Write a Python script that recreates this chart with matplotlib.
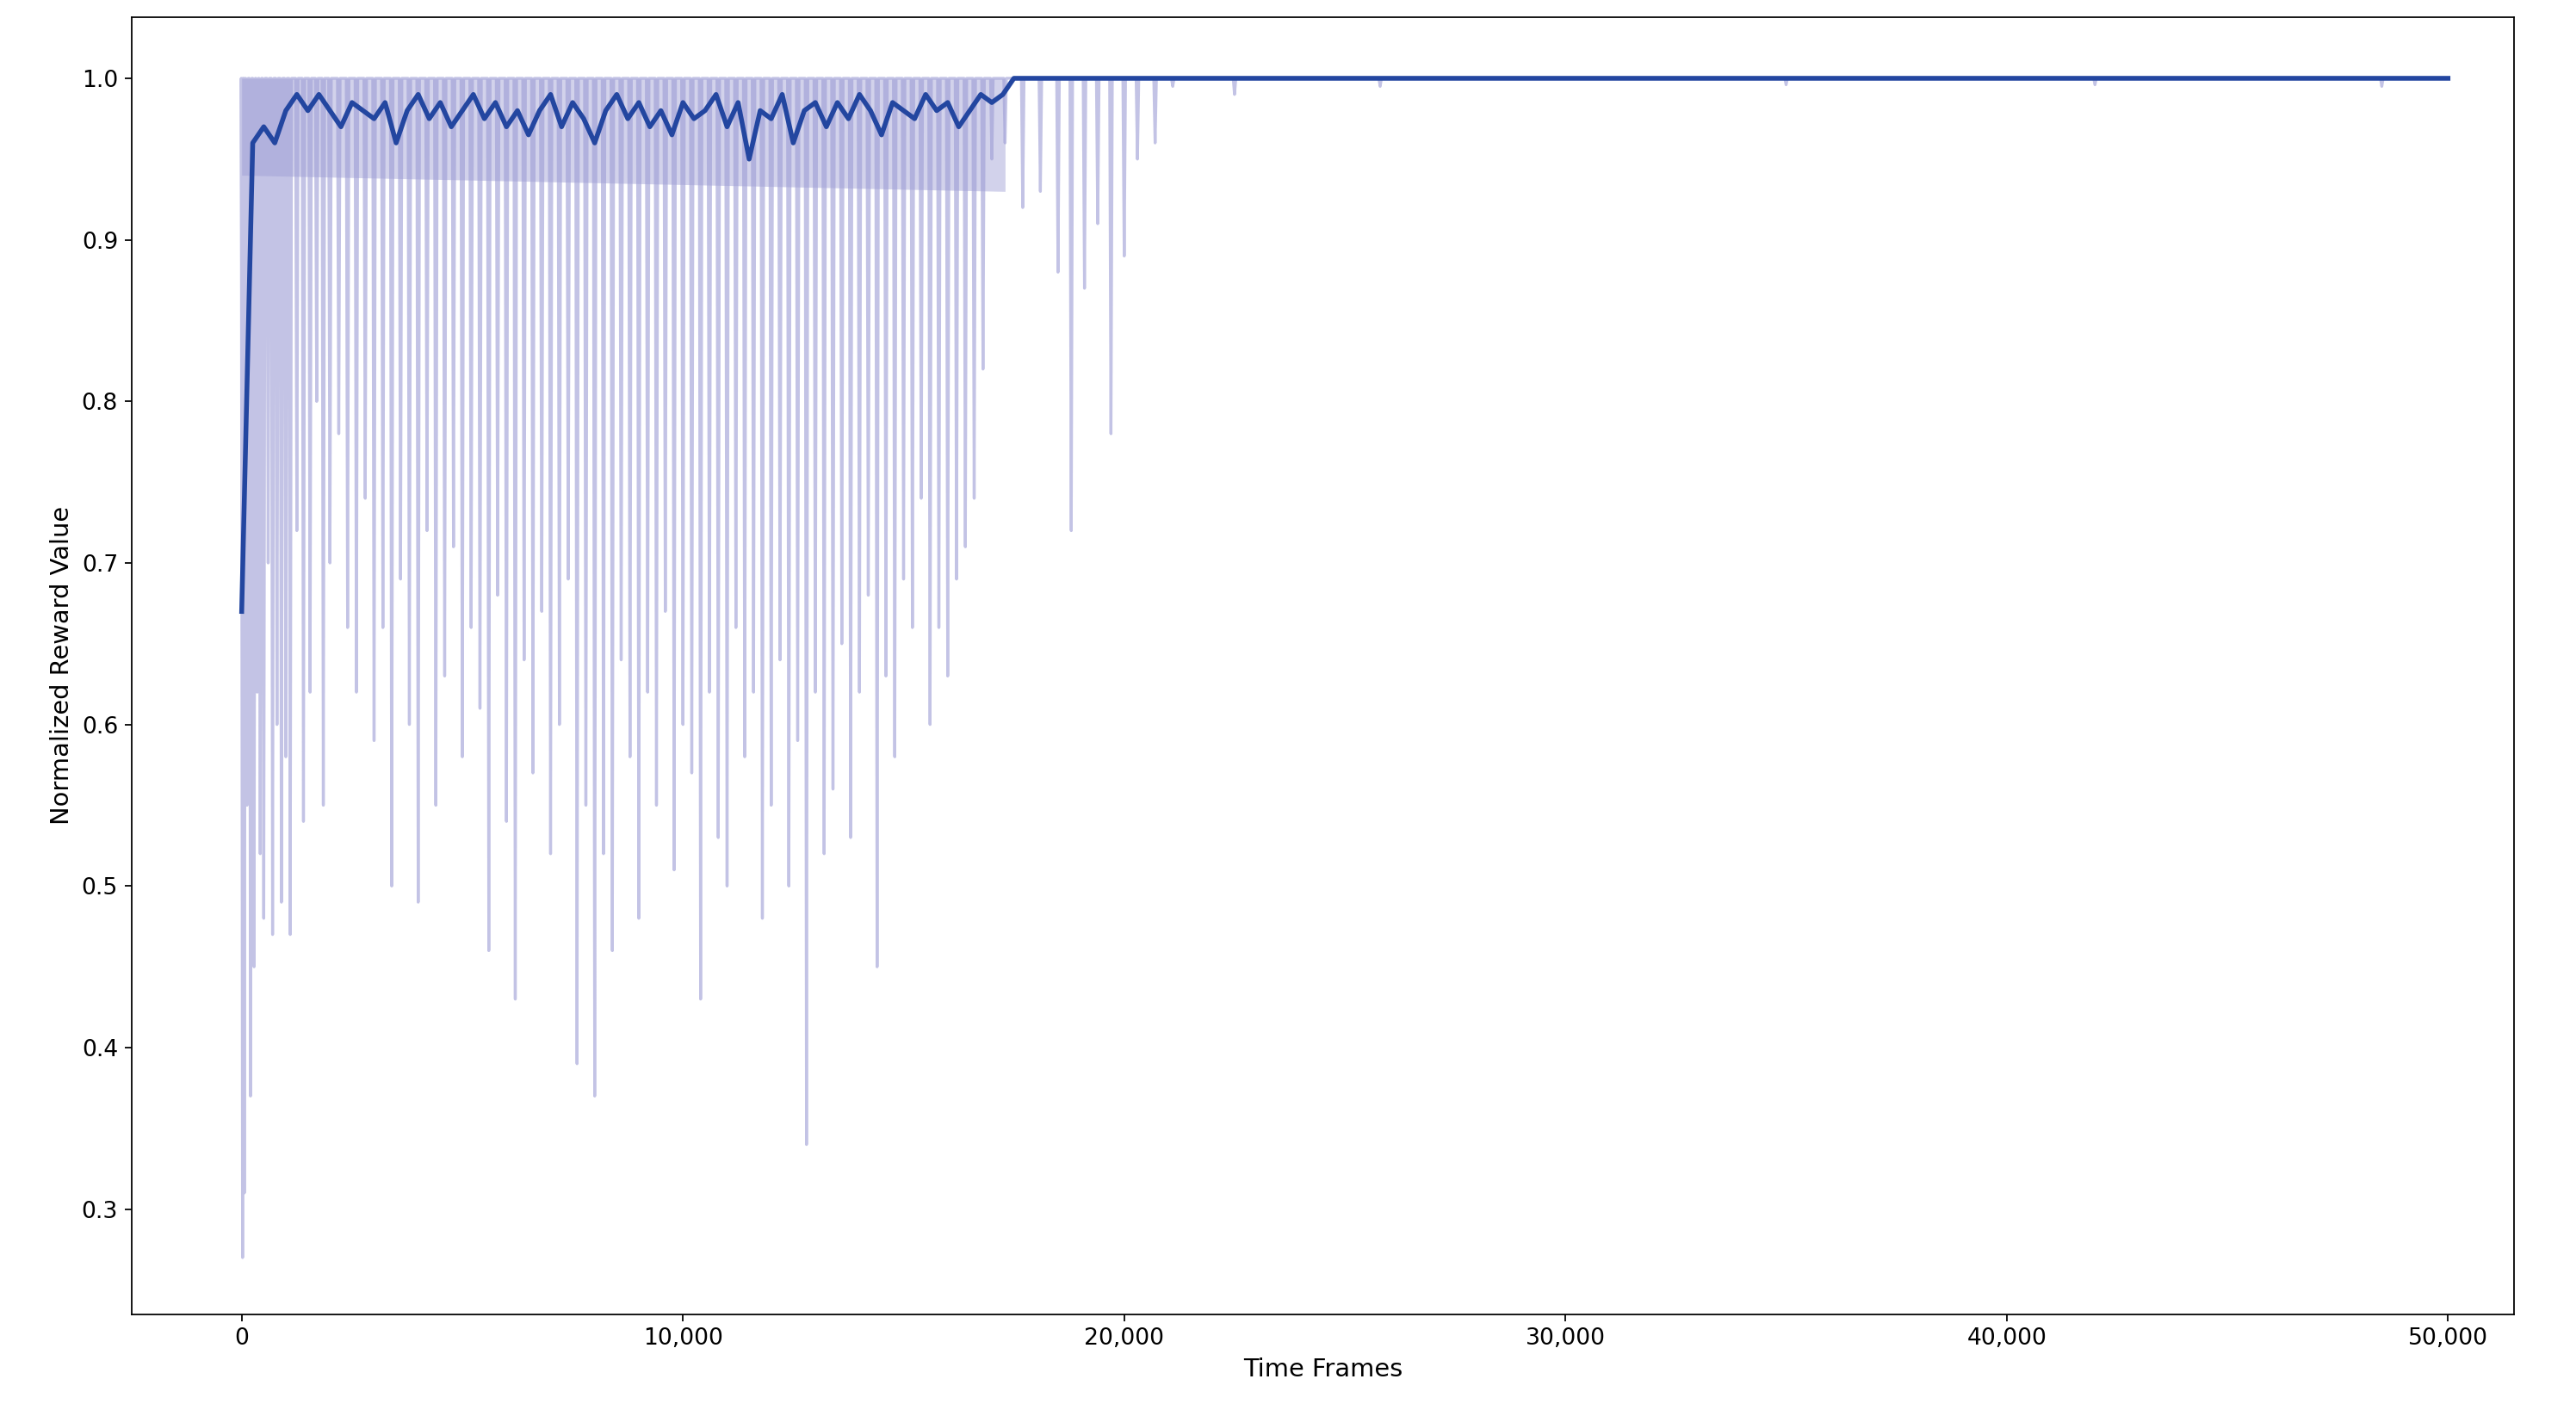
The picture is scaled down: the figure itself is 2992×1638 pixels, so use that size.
import matplotlib.pyplot as plt
from matplotlib.ticker import FuncFormatter

# downward dips of the raw reward (frame, value)
spike_frames = [20, 60, 120, 200, 280, 350, 420, 500, 600, 700, 800, 900, 1000, 1100, 1250,
                1400, 1550, 1700, 1850, 2000, 2200, 2400, 2600, 2800, 3000, 3200, 3400, 3600,
                3800, 4000, 4200, 4400, 4600, 4800, 5000, 5200, 5400, 5600, 5800, 6000, 6200,
                6400, 6600, 6800, 7000, 7200, 7400, 7600, 7800, 8000, 8200, 8400, 8600, 8800,
                9000, 9200, 9400, 9600, 9800, 10000, 10200, 10400, 10600, 10800, 11000, 11200,
                11400, 11600, 11800, 12000, 12200, 12400, 12600, 12800, 13000, 13200, 13400,
                13600, 13800, 14000, 14200, 14400, 14600, 14800, 15000, 15200, 15400, 15600,
                15800, 16000, 16200, 16400, 16600, 16800, 17000, 17300, 17700, 18100, 18500,
                18800, 19100, 19400, 19700, 20000, 20300, 20700, 21100, 22500, 25800, 35000,
                42000, 48500]
spike_values = [0.27, 0.31, 0.55, 0.37, 0.45, 0.62, 0.52, 0.48, 0.70, 0.47, 0.60, 0.49, 0.58,
                0.47, 0.72, 0.54, 0.62, 0.80, 0.55, 0.70, 0.78, 0.66, 0.62, 0.74, 0.59, 0.66,
                0.50, 0.69, 0.60, 0.49, 0.72, 0.55, 0.63, 0.71, 0.58, 0.66, 0.61, 0.46, 0.68,
                0.54, 0.43, 0.64, 0.57, 0.67, 0.52, 0.60, 0.69, 0.39, 0.55, 0.37, 0.52, 0.46,
                0.64, 0.58, 0.48, 0.62, 0.55, 0.67, 0.51, 0.60, 0.57, 0.43, 0.62, 0.53, 0.50,
                0.66, 0.58, 0.62, 0.48, 0.55, 0.64, 0.50, 0.59, 0.34, 0.62, 0.52, 0.56, 0.65,
                0.53, 0.62, 0.68, 0.45, 0.63, 0.58, 0.69, 0.66, 0.74, 0.60, 0.66, 0.63, 0.69,
                0.71, 0.74, 0.82, 0.95, 0.96, 0.92, 0.93, 0.88, 0.72, 0.87, 0.91, 0.78, 0.89,
                0.95, 0.96, 0.995, 0.99, 0.995, 0.996, 0.996, 0.995]

# smoothed reward, every 250 frames up to 17,500
smooth_frames = list(range(0, 17750, 250)) + [18000, 20000, 30000, 40000, 50000]
smooth_values = [0.67, 0.96, 0.97, 0.96, 0.98, 0.99, 0.98, 0.99, 0.98, 0.97, 0.985, 0.98,
                 0.975, 0.985, 0.96, 0.98, 0.99, 0.975, 0.985, 0.97, 0.98, 0.99, 0.975,
                 0.985, 0.97, 0.98, 0.965, 0.98, 0.99, 0.97, 0.985, 0.975, 0.96, 0.98, 0.99,
                 0.975, 0.985, 0.97, 0.98, 0.965, 0.985, 0.975, 0.98, 0.99, 0.97, 0.985,
                 0.95, 0.98, 0.975, 0.99, 0.96, 0.98, 0.985, 0.97, 0.985, 0.975, 0.99,
                 0.98, 0.965, 0.985, 0.98, 0.975, 0.99, 0.98, 0.985, 0.97, 0.98, 0.99, 0.985,
                 0.99, 1.0, 1.0, 1.0, 1.0, 1.0, 1.0]

raw_x, raw_y = [0], [0.87]
for f, v in zip(spike_frames, spike_values):
    raw_x += [f - 30, f, f + 30]
    raw_y += [1.0, v, 1.0]
raw_x.append(50000)
raw_y.append(1.0)

fig = plt.figure(figsize=(18.7, 10.2375), dpi=160)
ax = fig.add_axes([0.051, 0.068, 0.925, 0.92])
ax.plot(raw_x, raw_y, color='#9c9cd4', alpha=0.6, lw=1.5)
ax.fill_between([0, 17300], [0.94, 0.93], [1.0, 1.0], color='#9c9cd4', alpha=0.45, lw=0)
ax.plot(smooth_frames, smooth_values, color='#2346a0', lw=2.5)
ax.set_ylim(0.235, 1.038)
ax.set_xlim(-2500, 51500)
ax.xaxis.set_major_formatter(FuncFormatter(lambda v, p: f'{int(v):,}'))
ax.set_xlabel('Time Frames', fontsize=13)
ax.set_ylabel('Normalized Reward Value', fontsize=13)
ax.tick_params(labelsize=12)
fig.savefig('out.png')
